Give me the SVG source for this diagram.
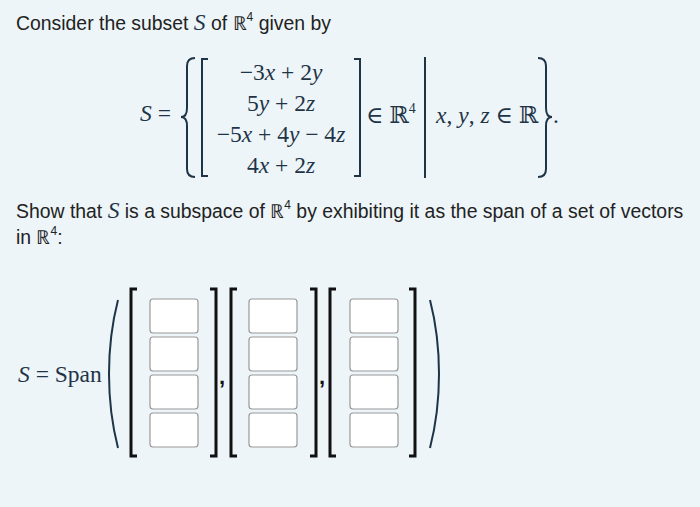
<svg xmlns="http://www.w3.org/2000/svg" width="700" height="507" viewBox="0 0 700 507">
<style>
.p{font-family:"Liberation Sans",Arial,sans-serif;font-size:19.4px;fill:#222}
.m{font-family:"Liberation Serif","DejaVu Serif",serif;font-size:23.5px;fill:#1f3447}
.i{font-style:italic}
.br{fill:none;stroke:#1f3447;stroke-width:2}
.bk{fill:none;stroke:#111;stroke-width:3}
.bx{fill:#fff;stroke:#999;stroke-width:1.2}
</style>
<rect width="700" height="507" fill="#edf5f8"/>
<text class="p" x="16" y="30">Consider the subset <tspan class="m i" font-size="23">S</tspan> of ℝ<tspan font-size="12" dy="-9">4</tspan><tspan dy="9"> given by</tspan></text>
<g id="setdef">
<text class="m" x="140" y="121"><tspan class="i">S</tspan> =</text>
<path class="br" d="M195,58 Q187,58 187,66 L187,108 Q187,117 181,117 Q187,117 187,126 L187,169 Q187,177 195,177"/>
<path class="br" d="M208,59 L202,59 L202,176 L208,176"/>
<text class="m" x="281" y="80" text-anchor="middle">−3<tspan class="i">x</tspan> + 2<tspan class="i">y</tspan></text>
<text class="m" x="281" y="111" text-anchor="middle">5<tspan class="i">y</tspan> + 2<tspan class="i">z</tspan></text>
<text class="m" x="281" y="142" text-anchor="middle">−5<tspan class="i">x</tspan> + 4<tspan class="i">y</tspan> − 4<tspan class="i">z</tspan></text>
<text class="m" x="281" y="173" text-anchor="middle">4<tspan class="i">x</tspan> + 2<tspan class="i">z</tspan></text>
<path class="br" d="M354,59 L360,59 L360,176 L354,176"/>
<text class="m" x="366" y="123">∈ ℝ<tspan font-size="14" dy="-10">4</tspan></text>
<line class="br" x1="425" y1="57" x2="425" y2="178"/>
<text class="m" x="436" y="123"><tspan class="i">x</tspan>, <tspan class="i">y</tspan>, <tspan class="i">z</tspan> ∈ ℝ</text>
<path class="br" d="M538,58 Q546,58 546,66 L546,108 Q546,117 552,117 Q546,117 546,126 L546,169 Q546,177 538,177"/>
<text class="m" x="553" y="123">.</text>
</g>
<text class="p" x="16" y="218">Show that <tspan class="m i" font-size="23">S</tspan> is a subspace of ℝ<tspan font-size="12" dy="-9">4</tspan><tspan dy="9"> by exhibiting it as the span of a set of vectors</tspan></text>
<text class="p" x="16" y="244">in ℝ<tspan font-size="12" dy="-9">4</tspan><tspan dy="9">:</tspan></text>
<g id="span">
<text class="m" x="18" y="382"><tspan class="i">S</tspan> = Span</text>
<path class="br" d="M118,300 Q109,335 109,374 Q109,413 118,448"/>
<path class="br" d="M430,300 Q439,335 439,374 Q439,413 430,448"/>
</g>
<g id="v1">
<path class="bk" d="M137,289 L131,289 L131,456 L137,456"/>
<path class="bk" d="M210,289 L216,289 L216,456 L210,456"/>
<rect class="bx" x="150" y="299" width="48" height="34" rx="3"/>
<rect class="bx" x="150" y="337" width="48" height="34" rx="3"/>
<rect class="bx" x="150" y="375" width="48" height="34" rx="3"/>
<rect class="bx" x="150" y="413" width="48" height="34" rx="3"/>
</g>
<text x="219" y="384" font-family="Liberation Sans,sans-serif" font-size="22" font-weight="bold" fill="#111">,</text>
<g id="v2">
<path class="bk" d="M237,289 L231,289 L231,456 L237,456"/>
<path class="bk" d="M310,289 L316,289 L316,456 L310,456"/>
<rect class="bx" x="249" y="299" width="48" height="34" rx="3"/>
<rect class="bx" x="249" y="337" width="48" height="34" rx="3"/>
<rect class="bx" x="249" y="375" width="48" height="34" rx="3"/>
<rect class="bx" x="249" y="413" width="48" height="34" rx="3"/>
</g>
<text x="319" y="384" font-family="Liberation Sans,sans-serif" font-size="22" font-weight="bold" fill="#111">,</text>
<g id="v3">
<path class="bk" d="M336,289 L330,289 L330,456 L336,456"/>
<path class="bk" d="M409,289 L415,289 L415,456 L409,456"/>
<rect class="bx" x="350" y="299" width="48" height="34" rx="3"/>
<rect class="bx" x="350" y="337" width="48" height="34" rx="3"/>
<rect class="bx" x="350" y="375" width="48" height="34" rx="3"/>
<rect class="bx" x="350" y="413" width="48" height="34" rx="3"/>
</g>
</svg>
